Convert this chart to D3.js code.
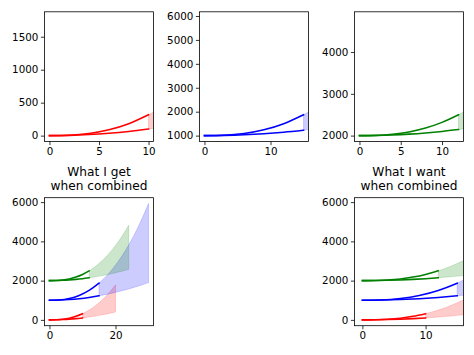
<!DOCTYPE html>
<html><head><meta charset="utf-8">
<script src="https://cdn.jsdelivr.net/npm/d3@7"></script>
<style>body{margin:0;background:#fff;} text{font-family:"DejaVu Sans",sans-serif;}</style>
</head><body>
<svg id="c" width="474" height="355"></svg>
<script>
// ---- data ----
const redLineX   = [0, 2, 4, 6, 8, 10];
const redUpper   = [0, 6, 32, 88, 181, 316];
const redLower   = [0, 4, 16, 36, 64, 100];
const redFillX   = [10, 12, 14, 16, 18, 20];
const redFillUp  = [316, 499, 733, 1024, 1375, 1789];
const redFillLo  = [100, 144, 196, 256, 324, 400];

const blueLineX  = [0, 3, 6, 9, 12, 15];
const blueUpper  = [1000, 1016, 1088, 1243, 1499, 1871];
const blueLower  = [1000, 1009, 1036, 1081, 1144, 1225];
const blueFillX  = [15, 18, 21, 24, 27, 30];
const blueFillUp = [1871, 2375, 3021, 3822, 4788, 5930];
const blueFillLo = [1225, 1324, 1441, 1576, 1729, 1900];

const greenLineX  = [0, 2, 4, 6, 8, 10, 12];
const greenUpper  = [2000, 2006, 2032, 2088, 2181, 2316, 2499];
const greenLower  = [2000, 2004, 2016, 2036, 2064, 2100, 2144];
const greenFillX  = [12, 14, 16, 18, 20, 22, 24];
const greenFillUp = [2499, 2733, 3024, 3375, 3789, 4270, 4822];
const greenFillLo = [2144, 2196, 2256, 2324, 2400, 2484, 2576];

const titles = ["What I get", "when combined", "What I want", "when combined"];

// ---- build series ----
function mk(color, lx, up, lo, fx, fu, fl) {
  return {color,
    upper: lx.map((x,i)=>({x, y: up[i]})),
    lower: lx.map((x,i)=>({x, y: lo[i]})),
    fill:  fx.map((x,i)=>({x, y0: fl[i], y1: fu[i]}))};
}
const red = mk("#ff0000", redLineX, redUpper, redLower, redFillX, redFillUp, redFillLo);
const blue = mk("#0000ff", blueLineX, blueUpper, blueLower, blueFillX, blueFillUp, blueFillLo);
const green = mk("#008000", greenLineX, greenUpper, greenLower, greenFillX, greenFillUp, greenFillLo);

const svg = d3.select("#c");
const FS = 10.3;
let clipId = 0;

function panel(box, xd, yd, xticks, yticks, series, title) {
  const [l, r, t, b] = box;
  const x = d3.scaleLinear().domain(xd).range([l, r]);
  const y = d3.scaleLinear().domain(yd).range([b, t]);
  const id = "clip" + (clipId++);
  svg.append("clipPath").attr("id", id).append("rect")
    .attr("x", l).attr("y", t).attr("width", r - l).attr("height", b - t);
  const g = svg.append("g").attr("clip-path", `url(#${id})`);
  const area = d3.area().x(d=>x(d.x)).y0(d=>y(d.y0)).y1(d=>y(d.y1)).curve(d3.curveMonotoneX);
  const line = d3.line().x(d=>x(d.x)).y(d=>y(d.y)).curve(d3.curveMonotoneX);
  series.forEach(s => {
    g.append("path").attr("d", area(s.fill)).attr("fill", s.color).attr("fill-opacity", 0.2)
      .attr("stroke", s.color).attr("stroke-opacity", 0.2).attr("stroke-width", 0.8);
  });
  series.forEach(s => {
    [s.upper, s.lower].forEach(d => {
      g.append("path").attr("d", line(d)).attr("fill", "none").attr("stroke", s.color)
        .attr("stroke-width", 1.55).attr("stroke-linecap", "square");
    });
  });
  const xa = d3.axisBottom(x).tickValues(xticks).tickSize(3.6).tickPadding(2.6).tickFormat(d3.format("d"));
  const ya = d3.axisLeft(y).tickValues(yticks).tickSize(3.6).tickPadding(2.6).tickFormat(d3.format("d"));
  const gx = svg.append("g").attr("transform", `translate(0,${b})`).call(xa);
  const gy = svg.append("g").attr("transform", `translate(${l},0)`).call(ya);
  [gx, gy].forEach(a => {
    a.select(".domain").remove();
    a.selectAll("line").attr("stroke", "#000").attr("stroke-width", 0.8);
    a.selectAll("text").attr("fill", "#000").style("font-size", FS + "px").style("font-family", "DejaVu Sans");
  });
  svg.append("rect").attr("x", l).attr("y", t).attr("width", r - l).attr("height", b - t)
    .attr("fill", "none").attr("stroke", "#000").attr("stroke-width", 0.8);
  if (title) {
    const cx = (l + r) / 2;
    svg.append("text").attr("x", cx).attr("y", t - 21.6).attr("text-anchor", "middle")
      .style("font-size", "12.2px").attr("fill", "#000").text(title[0]);
    svg.append("text").attr("x", cx).attr("y", t - 7.4).attr("text-anchor", "middle")
      .style("font-size", "12.2px").attr("fill", "#000").text(title[1]);
  }
}

const rowTop = [11.8, 141.5], rowBot = [197.7, 325.7];
const c1 = [44.5, 153.5], c2 = [199.5, 308.5], c3 = [354.5, 463.5];

panel([c1[0], c1[1], rowTop[0], rowTop[1]], [-0.5, 10.5], [-89, 1878], [0, 5, 10], [0, 500, 1000, 1500], [red]);
panel([c2[0], c2[1], rowTop[0], rowTop[1]], [-0.75, 15.75], [754, 6175], [0, 10], [1000, 2000, 3000, 4000, 5000, 6000], [blue]);
panel([c3[0], c3[1], rowTop[0], rowTop[1]], [-0.6, 12.6], [1859, 4963], [0, 5, 10], [2000, 3000, 4000], [green]);
panel([c1[0], c1[1], rowBot[0], rowBot[1]], [-1.5, 31.5], [-296, 6225], [0, 20], [0, 2000, 4000, 6000], [red, blue, green], [titles[0], titles[1]]);
panel([c3[0], c3[1], rowBot[0], rowBot[1]], [-1.25, 16.0], [-296, 6225], [0, 10], [0, 2000, 4000, 6000], [red, blue, green], [titles[2], titles[3]]);
</script>
</body></html>
